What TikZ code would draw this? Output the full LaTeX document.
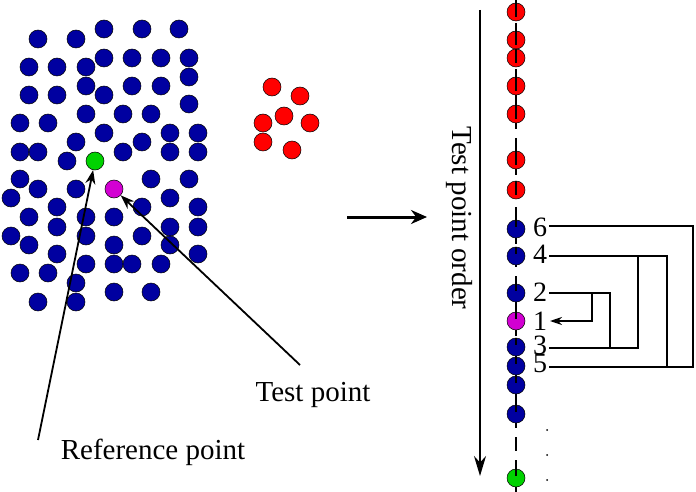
\documentclass[tikz,border=0pt]{standalone}
\usepackage{fontspec}
\setmainfont{Liberation Serif}
\usetikzlibrary{arrows.meta}
\definecolor{dblue}{RGB}{0,0,160}
\definecolor{rred}{RGB}{255,0,0}
\definecolor{ggreen}{RGB}{0,210,0}
\definecolor{mag}{RGB}{210,0,210}
\begin{document}
\begin{tikzpicture}[x=1pt,y=-1pt,
 pt/.style={circle,draw=black,line width=0.5pt,minimum size=18pt,inner sep=0pt},
 bl/.style={pt,fill=dblue}, rd/.style={pt,fill=rred}, gr/.style={pt,fill=ggreen}, mg/.style={pt,fill=mag},
 lab/.style={font=\fontsize{29}{32}\selectfont,inner sep=0pt},
 dig/.style={font=\fontsize{28}{30}\selectfont,inner sep=0pt},
 thin/.style={line width=1.2pt}]
\useasboundingbox (0,0) rectangle (696,492);
\foreach \x/\y in {38/39,76/39,104/29,142/29,179/29,29/67,57/67,86/67,104/58,132/58,161/58,189/58,
29/95,57/95,86/86,104/95,132/86,161/86,189/77,20/123,48/123,86/114,123/114,151/114,189/104,
20/152,38/152,76/142,104/133,123/152,142/142,170/133,198/133,170/152,198/152,67/161,
20/179,38/189,76/189,151/179,189/179,11/198,57/207,86/217,114/217,142/207,170/198,198/207,
29/217,57/227,86/236,114/245,142/236,170/227,198/227,11/236,29/245,57/254,86/264,114/264,132/264,161/264,170/245,198/254,
20/273,48/273,76/283,76/302,38/302,114/292,151/292}
 \node[bl] at (\x,\y) {};
\foreach \x/\y in {272/87,300/96,284/116,263/123,310/123,263/142,292/150}
 \node[rd] at (\x,\y) {};
\node[gr] (ref) at (95,161) {};
\node[mg] (tp) at (114,189) {};
\node[lab] (reft) at (153,452) {Reference point};
\node[lab] (tpt) at (313,395) {Test point};
\coordinate (ra) at (38,440);
\coordinate (ta) at (300,365);
\draw[line width=1.8pt,-{Stealth[length=14pt,width=10pt]}] (ra) -- (ref);
\draw[line width=1.8pt,-{Stealth[length=14pt,width=10pt]}] (ta) -- (tp);
\coordinate (ba) at (347,217); \coordinate (bb) at (427,217);
\draw[line width=3pt,-{Stealth[length=16pt,width=14pt]}] (ba) -- (bb);
% order column
\coordinate (ct) at (516,0); \coordinate (cb) at (516,492);
\draw[line width=2.8pt,dash pattern=on 14pt off 9pt] (ct) -- (cb);
\foreach \y in {12,40,58,86,114,160,190} \node[rd] at (516,\y) {};
\foreach \y in {12,40,58,86,114,160,190} \draw[line width=2.8pt] (516,\y-9) -- (516,\y+5);
\node[bl] (p6) at (516,229) {};
\node[bl] (p4) at (516,256) {};
\node[bl] (p2) at (516,293) {};
\node[mg] (p1) at (516,321) {};
\node[bl] (p3) at (516,347) {};
\node[bl] (p5) at (516,366) {};
\node[bl] (p7) at (516,385) {};
\node[bl] (p8) at (516,414) {};
\node[gr] (p9) at (516,478) {};
\foreach \y in {229,256,293,321,347,366,385,414,478} \draw[line width=2.8pt] (516,\y-9) -- (516,\y-2);
\foreach \y in {430,455,480} \fill (547,\y) circle (1pt);
\node[dig,anchor=west] (l6) at (533,227) {6};
\node[dig,anchor=west] (l4) at (533,254) {4};
\node[dig,anchor=west] (l2) at (533,292) {2};
\node[dig,anchor=west] (l1) at (533,321) {1};
\node[dig,anchor=west] (l3) at (533,345) {3};
\node[dig,anchor=west] (l5) at (533,363) {5};
\draw[thin] (549,226) -- (693,226) -- (693,367) -- (549,367);
\draw[thin] (549,256) -- (667,256) -- (667,367);
\draw[thin] (638,256) -- (638,348) -- (549,348);
\draw[thin] (549,293) -- (610,293) -- (610,348);
\draw[thin,-{Stealth[length=12pt,width=8pt]}] (592,293) -- (592,321) -- (550,321);
% time arrow
\coordinate (at) at (480,10); \coordinate (ab) at (480,476);
\draw[line width=1.8pt,-{Stealth[length=20pt,width=12pt]}] (at) -- (ab);
\node[lab,rotate=-90] (tpo) at (459,218) {Test point order};
\end{tikzpicture}
\end{document}
